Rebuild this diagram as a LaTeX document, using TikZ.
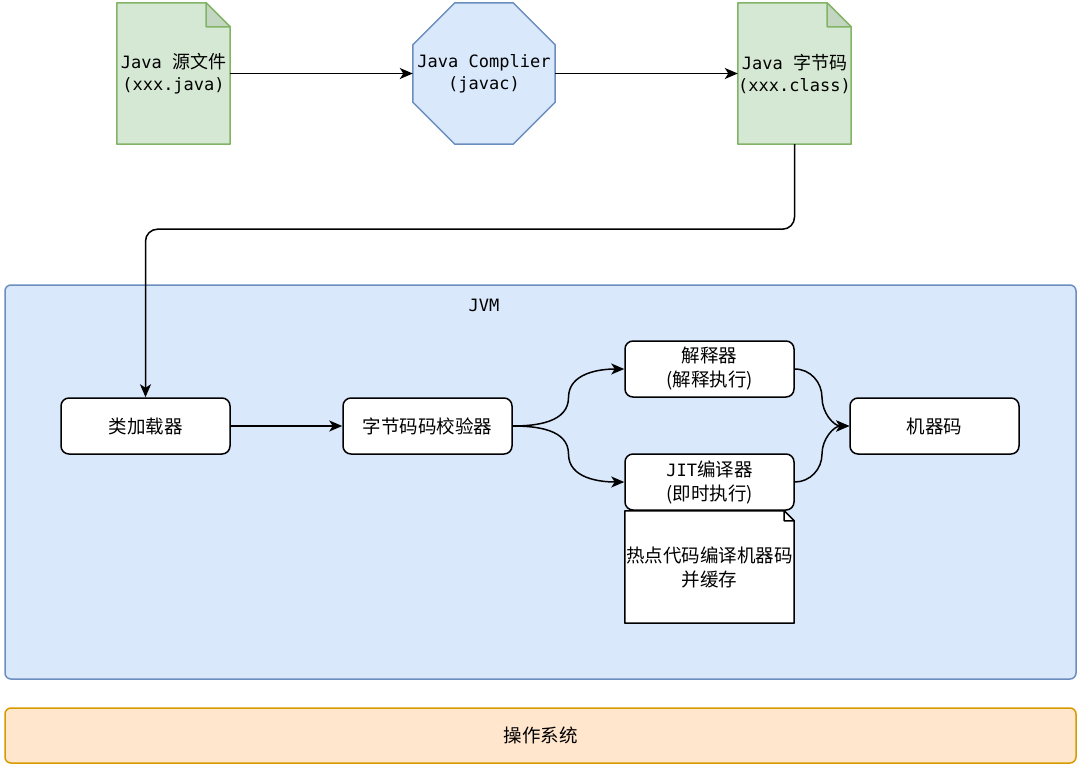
\documentclass[tikz,border=0pt]{standalone}
\usepackage{fontspec}
\setmainfont{Noto Sans CJK SC}
\newfontfamily\monofont{DejaVu Sans Mono}
\newfontfamily\cjkfont{Noto Sans CJK SC}
\usetikzlibrary{arrows.meta, backgrounds, calc}

\definecolor{docfill}{HTML}{D5E8D4}
\definecolor{docline}{HTML}{82B366}
\definecolor{docfold}{HTML}{C2D6C1}
\definecolor{jvmfill}{HTML}{DAE8FC}
\definecolor{jvmline}{HTML}{6C8EBF}
\definecolor{osfill}{HTML}{FFE6CC}
\definecolor{osline}{HTML}{D79B00}

\begin{document}
\begin{tikzpicture}[x=1pt, y=-1pt,
  every node/.style={font=\fontsize{18.5}{24}\selectfont, align=center, inner sep=0pt},
  docbox/.style={minimum width=113pt, minimum height=141pt, font=\monofont\fontsize{17}{22}\selectfont},
  stepbox/.style={draw, fill=white, line width=1.5pt, rounded corners=8pt, minimum width=169pt, minimum height=56pt},
  groupbox/.style={line width=1.5pt, rounded corners=6pt, minimum width=1071pt},
  link/.style={line width=1.5pt, -{Stealth[length=13pt, width=11pt, inset=3.5pt]}}]
\useasboundingbox (0,0) rectangle (1080,772);

% source -> compiler -> class file
\node[docbox] (src) at (173.5,73.5) {Java {\cjkfont\fontsize{18}{22}\selectfont 源文件}\\(xxx.java)};
\node[docbox, minimum width=142pt] (javac) at (484,73.5) {Java Complier\\(javac)};
\node[docbox] (cls) at (794.5,73.5) {Java {\cjkfont\fontsize{18}{22}\selectfont 字节码}\\(xxx.class)};

% inside the JVM
\node[font=\monofont\fontsize{17}{22}\selectfont] (jvmlabel) at (484,305) {JVM};
\node[stepbox] (loader) at (145.5,426) {类加载器};
\node[stepbox] (verif) at (427.5,426) {字节码码校验器};
\node[stepbox] (interp) at (709.5,369) {解释器\\(解释执行)};
\node[stepbox] (jit) at (709.5,482) {{\monofont\fontsize{17}{22}\selectfont JIT}编译器\\(即时执行)};
\node[stepbox] (mcode) at (934.5,426) {机器码};
\node[minimum width=169pt, minimum height=112pt] (note) at (709.5,567) {热点代码编译机器码\\并缓存};

% operating system
\node[groupbox, draw=osline, fill=osfill, minimum height=55pt] (os) at (540.5,735.5) {操作系统};

\begin{pgfonlayer}{background}
  \node[groupbox, draw=jvmline, fill=jvmfill, minimum height=394pt] (jvm) at (540.5,482) {};
  % folded documents
  \foreach \n/\f/\c/\d/\l in {src/24/docfill/docfold/docline, cls/24/docfill/docfold/docline, note/10/white/white/black} {
    \filldraw[fill=\c, draw=\l, line width=1.5pt, line join=round]
      (\n.north west) -- ([xshift=-\f pt]\n.north east) -- ([yshift=-\f pt]\n.north east)
      -- (\n.south east) -- (\n.south west) -- cycle;
    \filldraw[fill=\d, draw=\l, line width=1.5pt, line join=round]
      ([xshift=-\f pt]\n.north east) -- ([xshift=-\f pt, yshift=-\f pt]\n.north east)
      -- ([yshift=-\f pt]\n.north east) -- cycle;
  }
  % octagon
  \filldraw[fill=jvmfill, draw=jvmline, line width=1.5pt]
    ([xshift=42pt]javac.north west) -- ([xshift=-42pt]javac.north east)
    -- ([yshift=-42pt]javac.north east) -- ([yshift=42pt]javac.south east)
    -- ([xshift=-42pt]javac.south east) -- ([xshift=42pt]javac.south west)
    -- ([yshift=42pt]javac.south west) -- ([yshift=-42pt]javac.north west) -- cycle;
\end{pgfonlayer}

\draw[link] (src) -- (javac);
\draw[link] (javac) -- (cls);
\draw[link, rounded corners=12pt] (cls.south) -- ++(0,85) -| (loader.north);
\draw[link] (loader) -- (verif);
\draw[link] (verif.east) to[out=0, in=-90] ($(verif.east)!0.5!(interp.west)$) to[out=90, in=180] (interp.west);
\draw[link] (verif.east) to[out=0, in=90] ($(verif.east)!0.5!(jit.west)$) to[out=-90, in=180] (jit.west);
\draw[link] (interp.east) to[out=0, in=90] ($(interp.east)!0.5!(mcode.west)$) to[out=-90, in=180] (mcode.west);
\draw[link] (jit.east) to[out=0, in=-90] ($(jit.east)!0.5!(mcode.west)$) to[out=90, in=180] (mcode.west);
\end{tikzpicture}
\end{document}
